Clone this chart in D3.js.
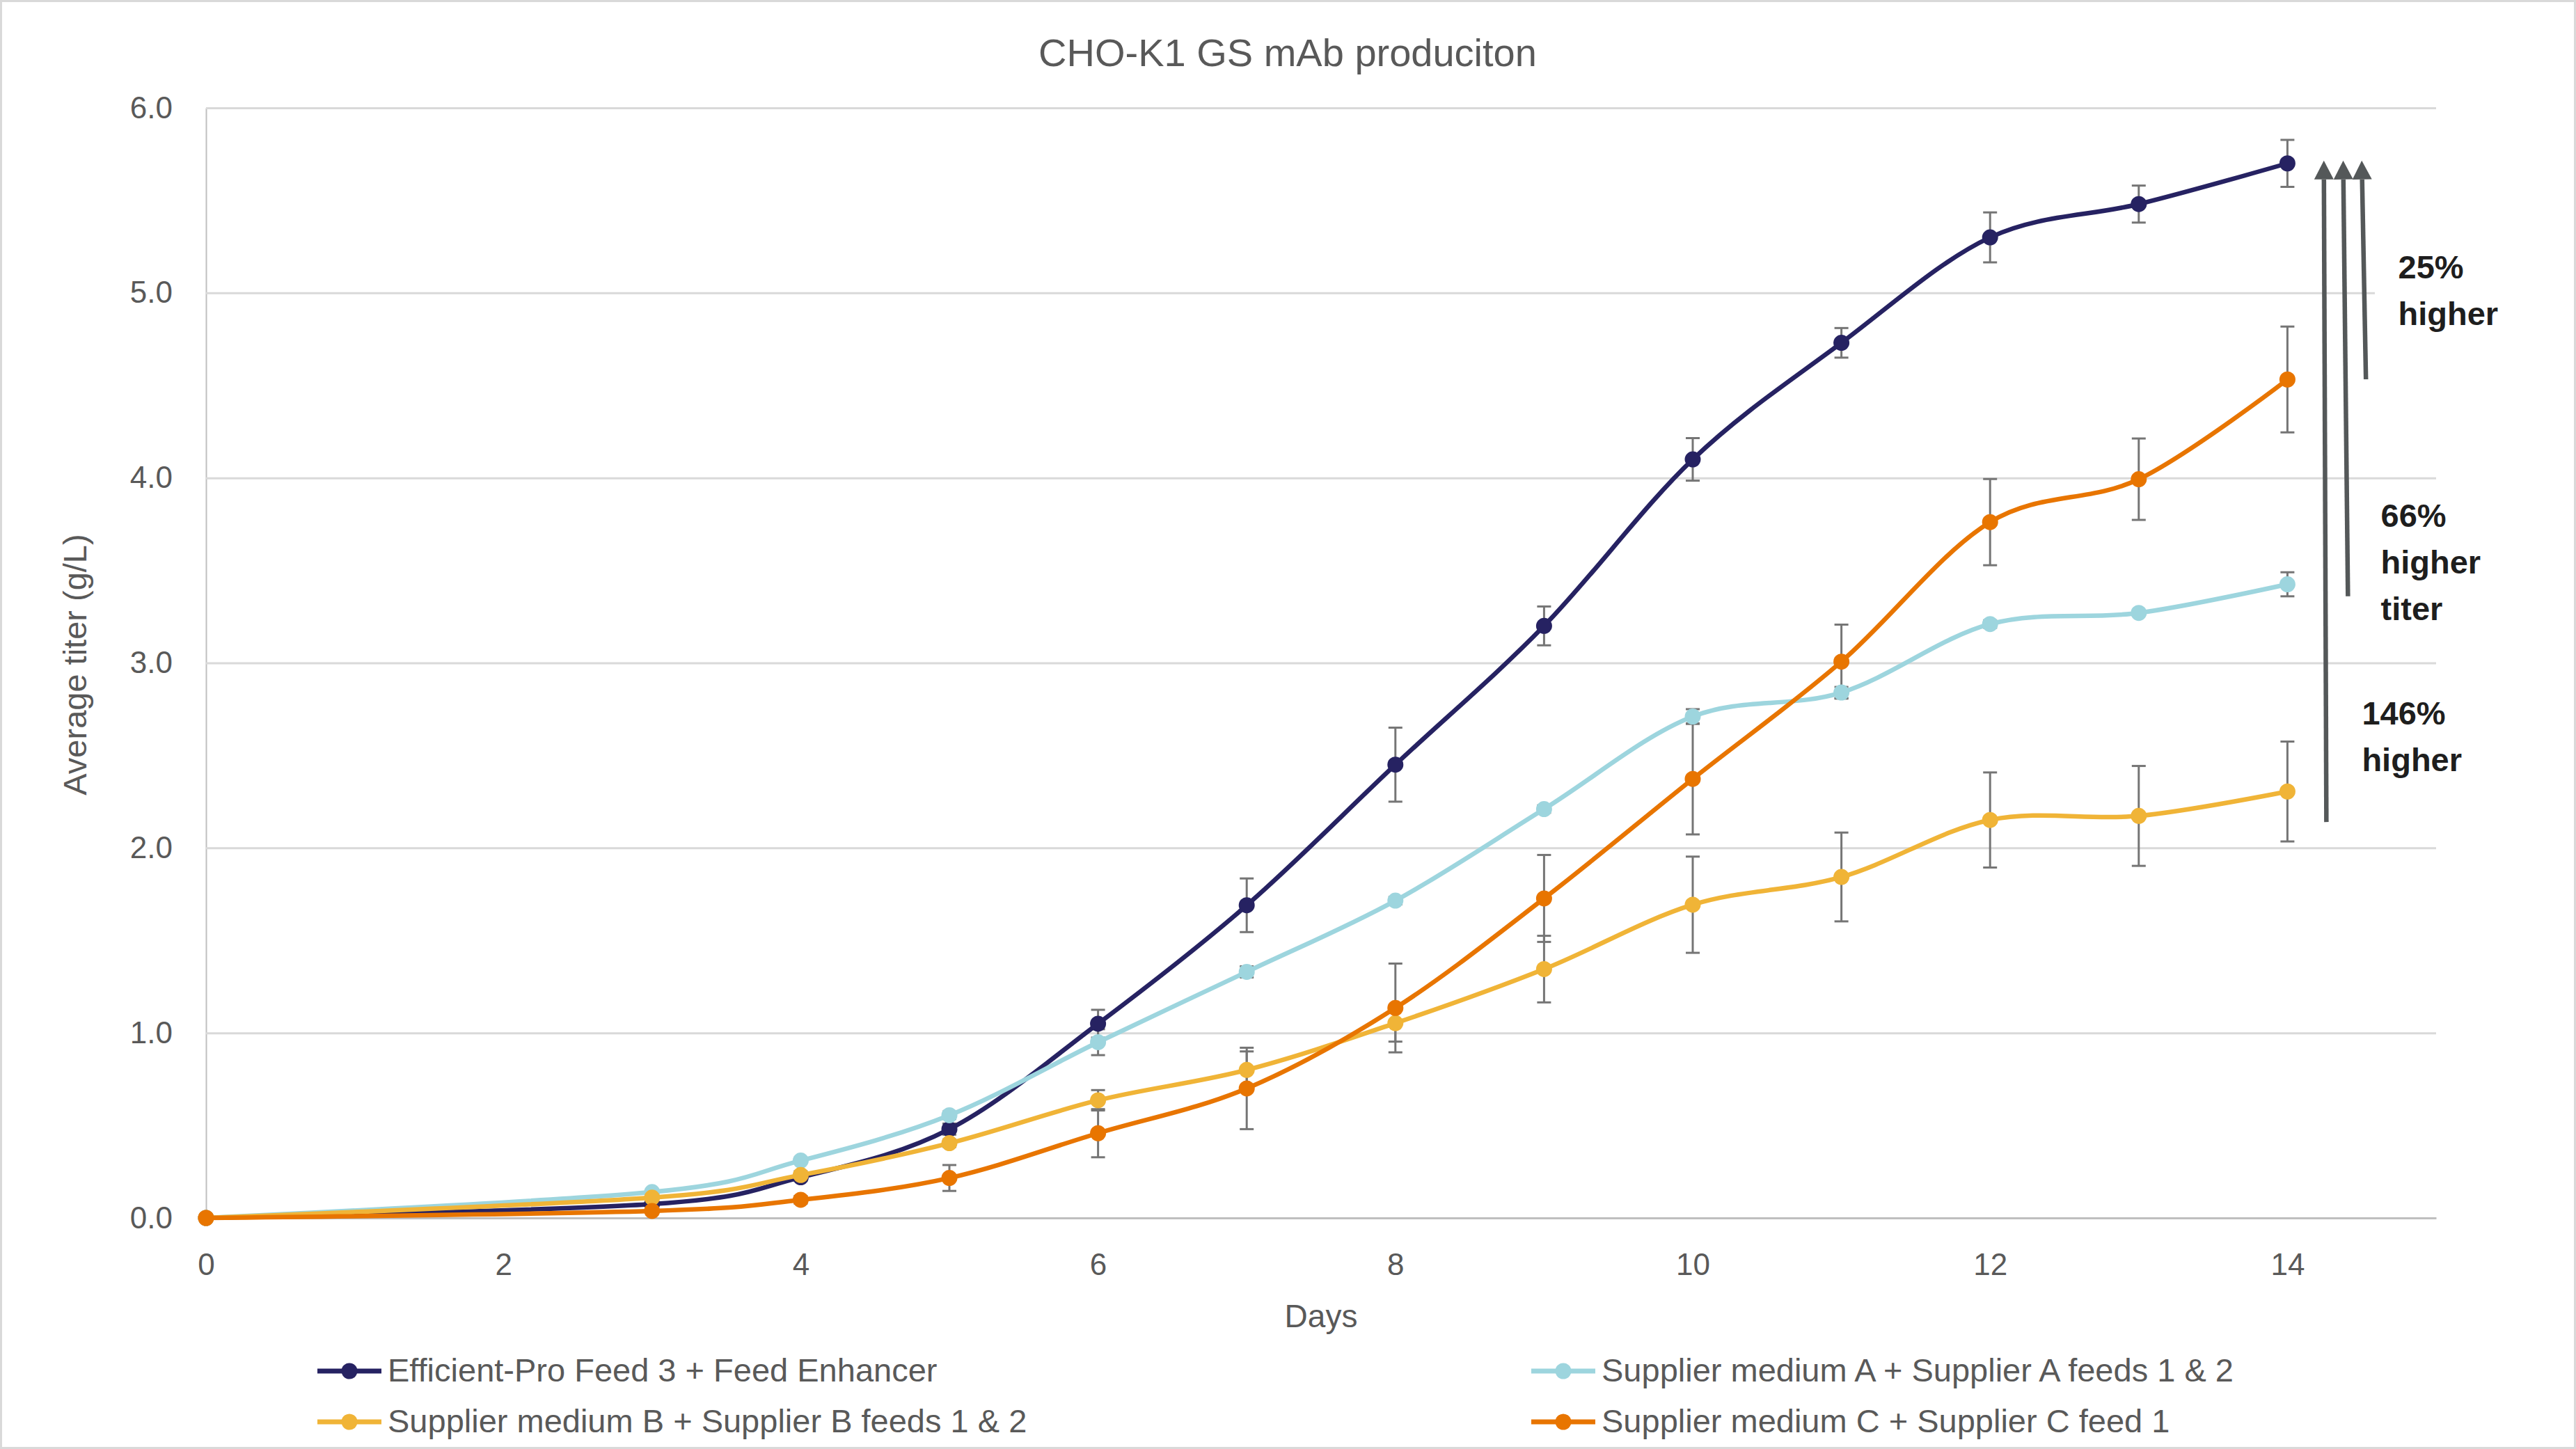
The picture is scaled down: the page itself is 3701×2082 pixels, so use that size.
<!DOCTYPE html>
<html>
<head>
<meta charset="utf-8">
<script src="https://cdn.jsdelivr.net/npm/d3@7"></script>
<style>
  body { margin: 0; background: #fff; }
  text { font-family: "Liberation Sans", Arial, sans-serif; }
</style>
</head>
<body>
<svg id="chart" width="3701" height="2082"></svg>
<script>
// data
var days = [0, 3, 4, 5, 6, 7, 8, 9, 10, 11, 12, 13, 14];

var effPro    = [0, 0.075, 0.22, 0.48, 1.05, 1.69, 2.45, 3.20, 4.10, 4.73, 5.30, 5.48, 5.70];
var effProErr = [0, 0.01, 0.02, 0.03, 0.075, 0.145, 0.20, 0.105, 0.115, 0.08, 0.135, 0.10, 0.127];

var supA    = [0, 0.14, 0.31, 0.555, 0.95, 1.33, 1.715, 2.21, 2.71, 2.84, 3.21, 3.27, 3.425];
var supAErr = [0, 0.01, 0.01, 0.02, 0.07, 0.03, 0.02, 0.02, 0.04, 0.03, 0.02, 0.01, 0.065];

var supB    = [0, 0.11, 0.232, 0.404, 0.636, 0.80, 1.053, 1.345, 1.693, 1.843, 2.151, 2.173, 2.305];
var supBErr = [0, 0.01, 0.02, 0.02, 0.055, 0.10, 0.10, 0.18, 0.26, 0.24, 0.257, 0.27, 0.27];

var supC    = [0, 0.038, 0.098, 0.216, 0.458, 0.70, 1.135, 1.727, 2.373, 3.007, 3.761, 3.993, 4.532];
var supCErr = [0, 0.01, 0.02, 0.07, 0.13, 0.22, 0.24, 0.235, 0.30, 0.20, 0.233, 0.22, 0.286];

var seriesNames = [
  "Efficient-Pro Feed 3 + Feed Enhancer",
  "Supplier medium A + Supplier A feeds 1 & 2",
  "Supplier medium B + Supplier B feeds 1 & 2",
  "Supplier medium C + Supplier C feed 1"
];
var seriesColors = ["#262262", "#9dd5de", "#f0b437", "#e87500"];

var yTicks = [0, 1, 2, 3, 4, 5, 6];
var xTicks = [0, 2, 4, 6, 8, 10, 12, 14];

// arrows: from competitor day-14 level up to the Efficient-Pro level
var arrowBase = [2.14, 3.36, 4.533];
var arrowTop = 5.715;
var arrowDayBottom = [14.262, 14.407, 14.528];
var arrowDayTop = [14.245, 14.375, 14.50];

var noteLines = [["25%", "higher"], ["66%", "higher", "titer"], ["146%", "higher"]];
var noteDay = [14.745, 14.628, 14.501];
var noteValue = [5.08, 3.735, 2.668];

var series = [
  {name: seriesNames[0], color: seriesColors[0], values: effPro, err: effProErr},
  {name: seriesNames[1], color: seriesColors[1], values: supA, err: supAErr},
  {name: seriesNames[2], color: seriesColors[2], values: supB, err: supBErr},
  {name: seriesNames[3], color: seriesColors[3], values: supC, err: supCErr}
];

var svg = d3.select("#chart");
var plotLeft = 296, plotRight = 3500, plotTop = 155, plotBottom = 1750;

var x = d3.scaleLinear().domain([0, 15]).range([plotLeft, plotRight]);
var y = d3.scaleLinear().domain([0, 6]).range([plotBottom, plotTop]);

// chart border
svg.append("rect")
  .attr("x", 1.5).attr("y", 1.5)
  .attr("width", 3698).attr("height", 2079)
  .attr("fill", "#fff").attr("stroke", "#d9d9d9").attr("stroke-width", 3);

// title
svg.append("text")
  .attr("x", 1850).attr("y", 95)
  .attr("text-anchor", "middle")
  .attr("font-size", 56)
  .attr("fill", "#595959")
  .text("CHO-K1 GS mAb produciton");

// y axis + gridlines
var yAxis = svg.append("g")
  .attr("transform", "translate(" + plotLeft + ",0)")
  .call(d3.axisLeft(y).tickValues(yTicks).tickFormat(d3.format(".1f"))
    .tickSize(-(plotRight - plotLeft)).tickSizeOuter(0).tickPadding(48));
yAxis.selectAll(".tick line").attr("stroke", "#d9d9d9").attr("stroke-width", 3);
yAxis.select(".domain").attr("stroke", "#bfbfbf").attr("stroke-width", 2);
yAxis.selectAll(".tick text")
  .attr("font-size", 44).attr("fill", "#595959")
  .attr("font-family", "Liberation Sans, Arial, sans-serif");

// white box behind the 25% label hides the grid there
svg.append("rect")
  .attr("x", 3412).attr("y", 330).attr("width", 140).attr("height", 160)
  .attr("fill", "#fff");

// x axis
var xAxis = svg.append("g")
  .attr("transform", "translate(0," + plotBottom + ")")
  .call(d3.axisBottom(x).tickValues(xTicks).tickSize(0).tickSizeOuter(0).tickPadding(51));
xAxis.select(".domain").attr("stroke", "#bfbfbf").attr("stroke-width", 3);
xAxis.selectAll(".tick text")
  .attr("font-size", 44).attr("fill", "#595959")
  .attr("font-family", "Liberation Sans, Arial, sans-serif");

// axis titles
svg.append("text")
  .attr("x", (plotLeft + plotRight) / 2).attr("y", 1907)
  .attr("text-anchor", "middle")
  .attr("font-size", 46).attr("fill", "#595959")
  .text("Days");

svg.append("text")
  .attr("transform", "translate(124," + 955 + ") rotate(-90)")
  .attr("text-anchor", "middle")
  .attr("font-size", 47).attr("fill", "#595959")
  .text("Average titer (g/L)");

// error bars
var errG = svg.append("g");
series.forEach(function(s){
  days.forEach(function(d, i){
    if(s.err[i] <= 0) return;
    var cx = x(d), y0 = y(s.values[i] - s.err[i]), y1 = y(s.values[i] + s.err[i]);
    errG.append("line").attr("x1", cx).attr("x2", cx).attr("y1", y0).attr("y2", y1);
    errG.append("line").attr("x1", cx - 10).attr("x2", cx + 10).attr("y1", y0).attr("y2", y0);
    errG.append("line").attr("x1", cx - 10).attr("x2", cx + 10).attr("y1", y1).attr("y2", y1);
  });
});
errG.selectAll("line").attr("stroke", "#757575").attr("stroke-width", 3);

// lines and markers
var line = d3.line()
  .x(function(d){ return x(d[0]); })
  .y(function(d){ return y(d[1]); })
  .curve(d3.curveCatmullRom.alpha(0));

series.forEach(function(s){
  var pts = days.map(function(d, i){ return [d, s.values[i]]; });
  var g = svg.append("g");
  g.append("path")
    .attr("d", line(pts))
    .attr("fill", "none")
    .attr("stroke", s.color)
    .attr("stroke-width", 6.5)
    .attr("stroke-linejoin", "round");
  g.selectAll("circle")
    .data(pts)
    .enter()
    .append("circle")
    .attr("cx", function(d){ return x(d[0]); })
    .attr("cy", function(d){ return y(d[1]); })
    .attr("r", 11.5)
    .attr("fill", s.color);
});

// arrows
var arrowColor = "#545859";
arrowBase.forEach(function(v, i){
  var x0 = x(arrowDayBottom[i]), y0 = y(v);
  var x1 = x(arrowDayTop[i]), y1 = y(arrowTop);
  var len = Math.sqrt((x1 - x0) * (x1 - x0) + (y1 - y0) * (y1 - y0));
  var ux = (x1 - x0) / len, uy = (y1 - y0) / len;
  var headH = 27, headW = 14;
  var bx = x1 - ux * headH, by = y1 - uy * headH;
  svg.append("line")
    .attr("x1", x0).attr("y1", y0).attr("x2", bx).attr("y2", by)
    .attr("stroke", arrowColor).attr("stroke-width", 6.5);
  svg.append("polygon")
    .attr("points", [
      [x1, y1],
      [bx - uy * headW, by + ux * headW],
      [bx + uy * headW, by - ux * headW]
    ].map(function(p){ return p.join(","); }).join(" "))
    .attr("fill", arrowColor);
});

// annotation labels
noteLines.forEach(function(lines, i){
  var t = svg.append("text")
    .attr("x", x(noteDay[i])).attr("y", y(noteValue[i]))
    .attr("font-size", 47).attr("font-weight", "bold").attr("fill", "#1e1e1e");
  lines.forEach(function(l, j){
    t.append("tspan").attr("x", x(noteDay[i])).attr("dy", j == 0 ? 0 : 67).text(l);
  });
});

// legend
var legendPos = [[456, 1970], [2200, 1970], [456, 2043], [2200, 2043]];
series.forEach(function(s, i){
  var lx = legendPos[i][0], ly = legendPos[i][1];
  var g = svg.append("g").attr("transform", "translate(" + lx + "," + ly + ")");
  g.append("line").attr("x1", 0).attr("x2", 92).attr("y1", 0).attr("y2", 0)
    .attr("stroke", s.color).attr("stroke-width", 7);
  g.append("circle").attr("cx", 46).attr("cy", 0).attr("r", 11.5).attr("fill", s.color);
  g.append("text").attr("x", 101).attr("y", 15)
    .attr("font-size", 47).attr("fill", "#595959")
    .text(s.name);
});
</script>
</body>
</html>
